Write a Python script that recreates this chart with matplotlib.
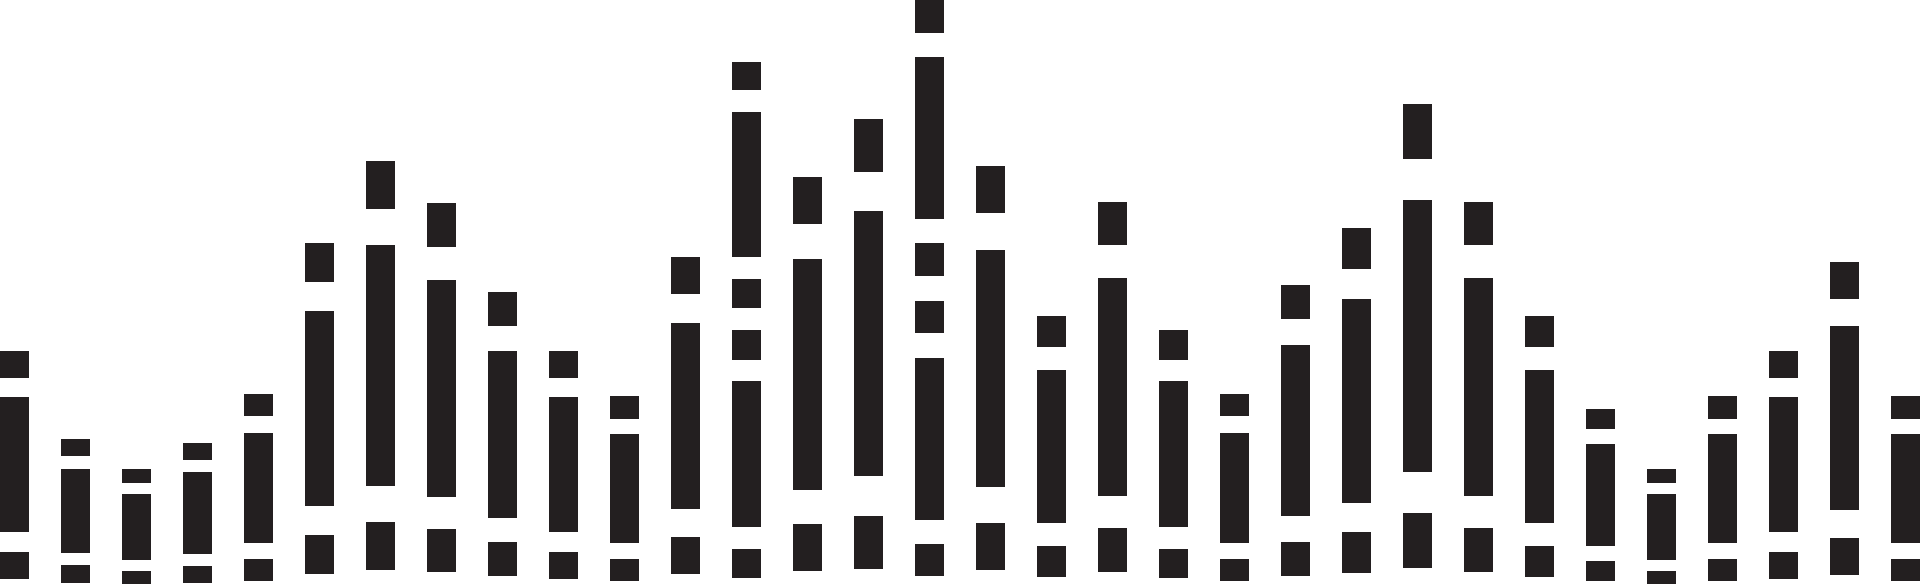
import numpy as np
import matplotlib
matplotlib.use("Agg")
import matplotlib.pyplot as plt

# Level meter graphic: 32 columns, each a cap, a body and a foot block.
# Values are depths measured down from the top of the picture.
cap_top = [350.5, 439.1, 469.3, 442.5, 393.7, 242.8, 160.5, 203.4, 291.6, 350.5, 396.3,
           257.0, 61.5, 177.3, 118.8, 0.0, 165.7, 315.8, 201.5, 330.4, 393.7, 284.5,
           227.9, 103.9, 201.5, 315.8, 408.6, 469.3, 396.3, 350.5, 261.5, 396.3]
cap_bottom = [377.7, 456.2, 483.4, 459.6, 416.0, 282.3, 208.9, 246.9, 325.5, 377.7, 418.6,
              294.2, 90.1, 223.8, 171.7, 32.5, 213.4, 347.1, 245.1, 359.8, 416.0, 318.8,
              268.9, 158.7, 245.1, 347.1, 429.4, 483.4, 418.6, 377.7, 298.7, 418.6]
body_top = [397.4, 468.9, 493.5, 471.5, 432.8, 311.4, 245.1, 279.7, 350.5, 397.4, 434.3,
            322.9, 381.4, 258.5, 211.2, 357.5, 249.5, 369.8, 277.5, 381.4, 432.8, 344.9,
            299.1, 199.6, 277.5, 369.8, 443.9, 493.5, 434.3, 397.4, 326.3, 434.3]
body_bottom = [531.8, 553.4, 560.1, 553.8, 542.6, 506.1, 486.4, 496.5, 517.7, 531.8, 543.0,
               509.1, 527.0, 490.1, 476.0, 519.6, 486.8, 523.3, 495.7, 527.0, 542.6, 516.2,
               502.8, 472.3, 495.7, 523.3, 546.0, 560.1, 543.0, 531.8, 510.2, 543.0]
foot_top = [551.6, 565.4, 570.7, 566.1, 558.7, 534.8, 522.2, 528.5, 542.3, 551.6, 558.7,
            536.7, 548.6, 524.4, 515.5, 543.8, 522.9, 546.0, 528.1, 548.6, 558.7, 541.5,
            532.2, 512.8, 528.1, 546.0, 560.5, 570.7, 558.7, 551.6, 537.8, 558.7]
foot_bottom = [578.8, 582.9, 584.0, 582.9, 581.0, 573.9, 570.2, 572.1, 576.2, 578.8, 581.0,
               574.3, 578.0, 570.6, 568.7, 576.2, 570.2, 577.3, 571.7, 578.0, 581.0, 575.8,
               573.2, 568.0, 571.7, 577.3, 581.4, 584.0, 581.0, 578.8, 575.0, 581.0]

# two tall columns have extra blocks between cap and body
extra_col = [12, 12, 12, 15, 15, 15]
extra_top = [112.1, 278.6, 330.4, 56.6, 242.8, 300.6]
extra_bottom = [257.4, 308.4, 359.8, 219.0, 275.6, 333.3]

color = "#231f20"
width = 0.472

fig = plt.figure(figsize=(19.2, 5.84), dpi=100)
ax = fig.add_axes([0, 0, 1, 1])

x = np.arange(len(cap_top))
for top, bottom in [(cap_top, cap_bottom), (body_top, body_bottom), (foot_top, foot_bottom)]:
    top = np.array(top)
    bottom = np.array(bottom)
    ax.bar(x, bottom - top, bottom=top, width=width, color=color, linewidth=0)

ax.bar(extra_col, np.array(extra_bottom) - np.array(extra_top), bottom=extra_top,
       width=width, color=color, linewidth=0)

ax.set_xlim(-width / 2, -width / 2 + 1920 / 61)
ax.set_ylim(584, 0)
ax.axis("off")

fig.savefig("out.png", dpi=100, facecolor="white")
